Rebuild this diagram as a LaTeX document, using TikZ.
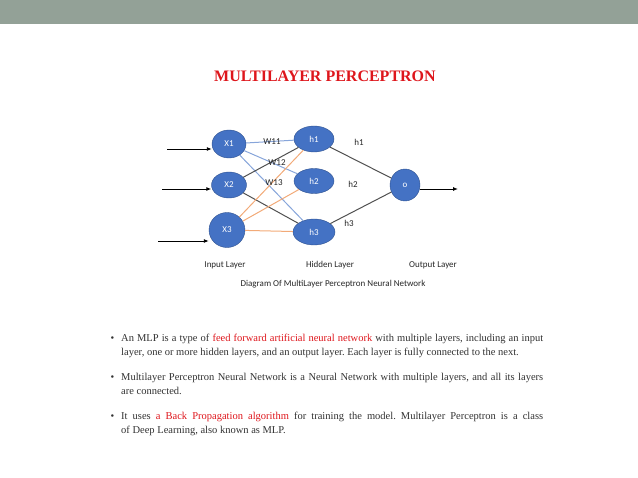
\documentclass[tikz,border=0pt]{standalone}
\usepackage{fontspec}
\setmainfont{Liberation Serif}
\newfontfamily\calibri{Carlito}
\usetikzlibrary{shapes.geometric, positioning, arrows.meta}
\frenchspacing
\definecolor{barGray}{RGB}{147,161,151}
\definecolor{mlpRed}{RGB}{222,22,28}
\definecolor{bodyGray}{RGB}{50,50,50}
\definecolor{nodeBlue}{RGB}{68,114,196}
\definecolor{nodeEdge}{RGB}{47,82,143}
\definecolor{wBlue}{RGB}{135,165,218}
\definecolor{wGray}{RGB}{80,80,80}
\definecolor{wOrange}{RGB}{242,170,120}

\begin{document}
\begin{tikzpicture}[x=1pt,y=-1pt,
    neuron/.style={ellipse, draw=nodeEdge, fill=nodeBlue, text=white, inner sep=0pt,
      font=\calibri\fontsize{9}{10}\selectfont},
    inarrow/.style={black, line width=0.9pt, -{Latex[length=5pt,width=4pt]}},
    lbl/.style={font=\calibri\fontsize{9}{10}\selectfont, text=black!85},
    bodytext/.style={anchor=base west, text width=422pt, align=justify, inner sep=0pt,
      text=bodyGray, font=\fontsize{10.5}{13.4}\selectfont}]
  \useasboundingbox (0,0) rectangle (638,478);
  \fill[barGray] (0,0) rectangle (638,24);

  % title
  \node[anchor=base, inner sep=0pt, text=mlpRed, font=\bfseries\fontsize{16}{18}\selectfont] (title) at (325,82) {MULTILAYER PERCEPTRON};

  % layers
  \node[neuron, minimum width=34pt, minimum height=28pt] (x1) at (229,144) {X1};
  \node[neuron, minimum width=35pt, minimum height=26pt] (x2) at (229,185) {X2};
  \node[neuron, minimum width=36pt, minimum height=35pt] (x3) at (227,230) {X3};
  \node[neuron, minimum width=40pt, minimum height=26pt] (h1) at (314,139) {h1};
  \node[neuron, minimum width=40pt, minimum height=25pt] (h2) at (314,181) {h2};
  \node[neuron, minimum width=42pt, minimum height=26pt] (h3) at (314,232) {h3};
  \node[neuron, minimum width=30pt, minimum height=32pt] (o) at (405,185) {o};

  % weights
  \draw[wBlue, line width=1pt] (x1) -- (h1) (x1) -- (h2) (x1) -- (h3);
  \draw[wGray, line width=1pt] (x2) -- (h1) (x2) -- (h3);
  \draw[wOrange, line width=1pt] (x3) -- (h1) (x3) -- (h2) (x3) -- (h3);
  \draw[wGray, line width=1pt] (h1) -- (o) (h3) -- (o);

  \node[lbl] (w11) at (272,142) {W11};
  \node[lbl] (w12) at (277,163) {W12};
  \node[lbl] (w13) at (274,183) {W13};
  \node[lbl] (lh1) at (359,142) {h1};
  \node[lbl] (lh2) at (353,184) {h2};
  \node[lbl] (lh3) at (349,223) {h3};

  % inputs and output
  \coordinate (in1) at (167,149);
  \coordinate (in2) at (162,189);
  \coordinate (in3) at (158,241);
  \coordinate (out) at (458,189);
  \draw[inarrow] (in1) -- (in1 -| x1.west);
  \draw[inarrow] (in2) -- (in2 -| x2.west);
  \draw[inarrow] (in3) -- (in3 -| x3.west);
  \draw[inarrow] (o.east |- out) -- (out);

  \node[lbl] (inlayer) at (225,265) {Input Layer};
  \node[lbl] (hidlayer) at (330,265) {Hidden Layer};
  \node[lbl] (outlayer) at (433,265) {Output Layer};
  \node[lbl] (caption) at (333,284) {Diagram Of MultiLayer Perceptron Neural Network};

  % bullets
  \foreach \y/\name in {342/b1, 381/b2, 420/b3}
    \node[anchor=base, text=bodyGray, font=\fontsize{10.5}{12}\selectfont, inner sep=0pt] (dot\name) at (112.5,\y) {\textbullet};
  \node[bodytext] (b1) at (121,342) {An MLP is a type of {\color{mlpRed}feed forward artificial neural network} with multiple layers, including an input\linebreak layer, one or more hidden layers, and an output layer. Each layer is fully connected to the next.};
  \node[bodytext] (b2) at (121,381) {Multilayer Perceptron Neural Network is a Neural Network with multiple layers, and all its layers\linebreak are connected.};
  \node[bodytext] (b3) at (121,420) {It uses {\color{mlpRed}a Back Propagation algorithm} for training the model. Multilayer Perceptron is a class\linebreak of Deep Learning, also known as MLP.};
\end{tikzpicture}
\end{document}
